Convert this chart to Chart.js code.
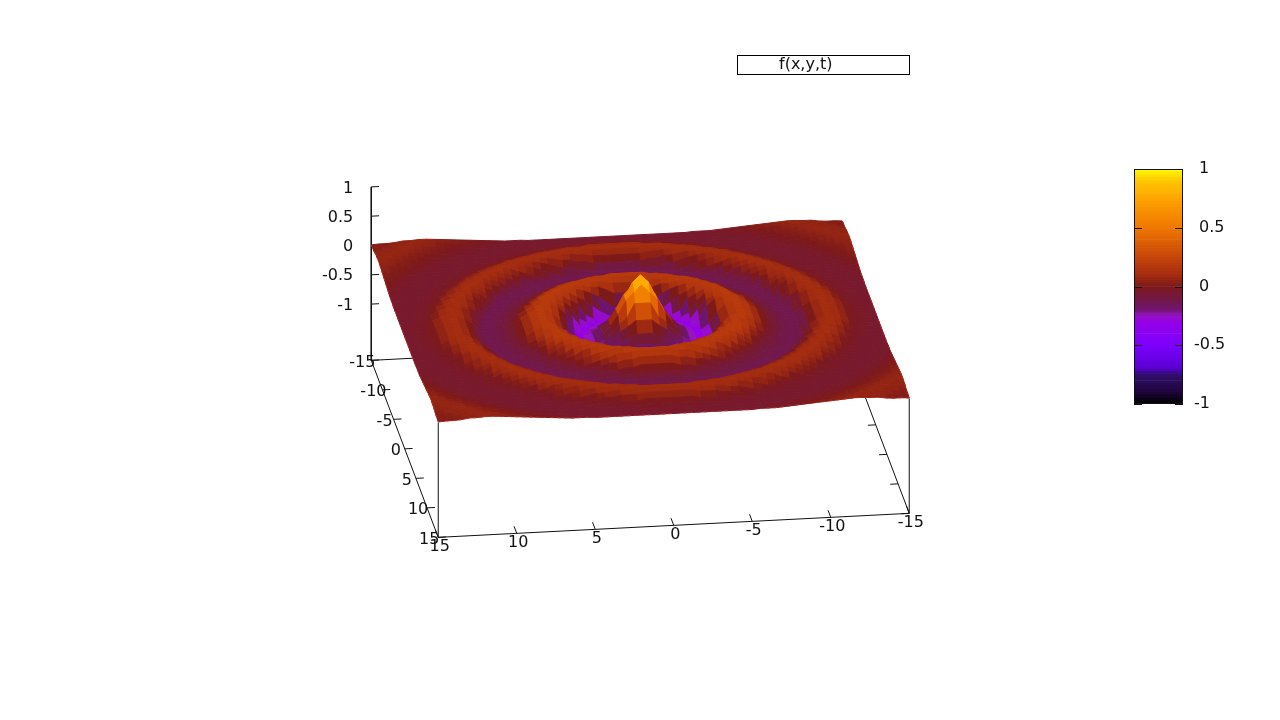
<!DOCTYPE html>
<html>
<head>
<meta charset="utf-8">
<title>f(x,y,t)</title>
<script src="https://cdn.jsdelivr.net/npm/chart.js@4/dist/chart.umd.min.js"></script>
<style>
  body { margin: 0; background: #fff; overflow: hidden; }
  #surface { position: absolute; left: 0; top: 0; }
  #colorbar { position: absolute; left: 1130px; top: 160px; }
  #key {
    position: absolute; left: 737px; top: 55px; width: 171px; height: 18px;
    border: 1px solid #000; font: 16px "DejaVu Sans"; line-height: 16px; color: #111;
  }
  #key span { position: absolute; left: 41px; top: 0; }
</style>
</head>
<body>
<canvas id="surface" width="1280" height="720"></canvas>
<canvas id="colorbar" width="150" height="256"></canvas>
<div id="key"><span>f(x,y,t)</span></div>
<script>
// height of the surface, one value per 0.25 of radius from the centre
const ringRadiusStep = 0.25;
const ringHeights = [
  0.8, 0.77, 0.68, 0.55, 0.42, 0.3, 0.18, 0.08,
  0, -0.07, -0.13, -0.18, -0.22, -0.25, -0.28, -0.3,
  -0.3, -0.27, -0.2, -0.1,
  0, 0.07, 0.12, 0.15, 0.17, 0.18, 0.18, 0.15, 0.12, 0.08, 0.04, 0,
  -0.03, -0.06, -0.08, -0.1, -0.11, -0.12, -0.13, -0.13, -0.12, -0.1, -0.04, 0,
  0.04, 0.07, 0.09, 0.1, 0.1, 0.09, 0.08, 0.05, 0.02, -0.01, -0.02, -0.03,
  -0.04, -0.04, -0.05, -0.05, -0.05, -0.05, -0.05, -0.05, -0.04, -0.04, -0.03, -0.02,
  -0.01, 0, 0.01, 0.02, 0.03, 0.04, 0.05, 0.06, 0.06, 0.06, 0.05, 0.05,
  0.04, 0.03, 0.02, 0.02, 0.01, 0.01
];

const gridX = [
  -15, -14.5, -14, -13.5, -13, -12.5, -12, -11.5, -11, -10.5, -10, -9.5, -9, -8.5, -8, -7.5,
  -7, -6.5, -6, -5.5, -5, -4.5, -4, -3.5, -3, -2.5, -2, -1.5, -1, -0.5, 0,
  0.5, 1, 1.5, 2, 2.5, 3, 3.5, 4, 4.5, 5, 5.5, 6, 6.5, 7, 7.5,
  8, 8.5, 9, 9.5, 10, 10.5, 11, 11.5, 12, 12.5, 13, 13.5, 14, 14.5, 15
];
const gridY = gridX;

const xTicks = [15, 10, 5, 0, -5, -10, -15];
const yTicks = [-15, -10, -5, 0, 5, 10, 15];
const zTicks = [1, 0.5, 0, -0.5, -1];
const zFloor = -1.96;

const colorbarLevels = [
  -1, -0.975, -0.95, -0.925, -0.9, -0.875, -0.85, -0.825, -0.8, -0.775,
  -0.75, -0.725, -0.7, -0.675, -0.65, -0.625, -0.6, -0.575, -0.55, -0.525,
  -0.5, -0.475, -0.45, -0.425, -0.4, -0.375, -0.35, -0.325, -0.3, -0.275,
  -0.25, -0.225, -0.2, -0.175, -0.15, -0.125, -0.1, -0.075, -0.05, -0.025,
  0, 0.025, 0.05, 0.075, 0.1, 0.125, 0.15, 0.175, 0.2, 0.225,
  0.25, 0.275, 0.3, 0.325, 0.35, 0.375, 0.4, 0.425, 0.45, 0.475,
  0.5, 0.525, 0.55, 0.575, 0.6, 0.625, 0.65, 0.675, 0.7, 0.725,
  0.75, 0.775, 0.8, 0.825, 0.85, 0.875, 0.9, 0.925, 0.95, 0.975
];
const colorbarTicks = [1, 0.5, 0, -0.5, -1];

// colours picked from the colour bar
const paletteLevels = [-1, -0.9, -0.75, -0.7, -0.5, -0.3, -0.25, -0.2, -0.1, 0, 0.1, 0.25, 0.5, 0.75, 0.9, 1];
const paletteColors = [
  [0, 0, 0], [30, 5, 60], [50, 15, 110], [90, 0, 210], [125, 0, 255], [150, 0, 230], [150, 20, 190],
  [110, 20, 110], [115, 25, 65], [125, 25, 25], [165, 45, 15], [200, 70, 10], [240, 120, 0],
  [255, 165, 0], [255, 200, 0], [255, 255, 0]
];

function colorFor(z) {
  let i = 0;
  while (i < paletteLevels.length - 2 && z > paletteLevels[i + 1]) {
    i++;
  }
  const t = Math.min(1, Math.max(0, (z - paletteLevels[i]) / (paletteLevels[i + 1] - paletteLevels[i])));
  const a = paletteColors[i];
  const b = paletteColors[i + 1];
  return `rgb(${Math.round(a[0] + (b[0] - a[0]) * t)},${Math.round(a[1] + (b[1] - a[1]) * t)},${Math.round(a[2] + (b[2] - a[2]) * t)})`;
}

function heightAt(x, y) {
  const index = Math.round(Math.sqrt(x * x + y * y) / ringRadiusStep);
  return ringHeights[Math.min(index, ringHeights.length - 1)];
}

// gnuplot's view, flat projection from data to page pixels
function project(x, y, z) {
  return {
    x: 640.25 - 15.7 * x + 2.233 * y,
    y: 322 + 0.8 * x + 5.9 * y - 58.6 * z
  };
}

function lineSet(points) {
  return {
    data: points.map(function (p) { return project(p[0], p[1], p[2]); }),
    showLine: true,
    fill: false,
    borderColor: '#111',
    borderWidth: 1,
    pointRadius: 0
  };
}

const datasets = [];

// box behind the surface
datasets.push(lineSet([[15, -15, 1], [15, -15, zFloor]]));
datasets.push(lineSet([[15, -15, zFloor], [-15, -15, zFloor]]));
datasets.push(lineSet([[15, -15, zFloor], [15, 15, zFloor]]));
datasets.push(lineSet([[-15, -15, zFloor], [-15, 15, zFloor]]));
datasets.push(lineSet([[15, 15, zFloor], [-15, 15, zFloor]]));
datasets.push(lineSet([[15, 15, zFloor], [15, 15, 0]]));
datasets.push(lineSet([[-15, 15, zFloor], [-15, 15, 0]]));

for (let i = 0; i < zTicks.length; i++) {
  datasets.push(lineSet([[15, -15, zTicks[i]], [14.5, -15, zTicks[i]]]));
}
for (let i = 0; i < yTicks.length; i++) {
  datasets.push(lineSet([[15, yTicks[i], zFloor], [14.5, yTicks[i], zFloor]]));
  datasets.push(lineSet([[-15, yTicks[i], zFloor], [-14.5, yTicks[i], zFloor]]));
}
for (let i = 0; i < xTicks.length; i++) {
  datasets.push(lineSet([[xTicks[i], 15, zFloor], [xTicks[i], 13.8, zFloor]]));
}

// surface cells, rear rows first so the front ones cover them
for (let j = 0; j < gridY.length - 1; j++) {
  for (let i = 0; i < gridX.length - 1; i++) {
    const corners = [
      [gridX[i], gridY[j]], [gridX[i + 1], gridY[j]],
      [gridX[i + 1], gridY[j + 1]], [gridX[i], gridY[j + 1]], [gridX[i], gridY[j]]
    ];
    const points = corners.map(function (c) {
      return project(c[0], c[1], heightAt(c[0], c[1]));
    });
    const color = colorFor(heightAt((gridX[i] + gridX[i + 1]) / 2, (gridY[j] + gridY[j + 1]) / 2));
    datasets.push({
      data: points,
      showLine: true,
      fill: 'shape',
      backgroundColor: color,
      borderColor: color,
      borderWidth: 1,
      pointRadius: 0
    });
  }
}

// the red specks along the left, right and front rims of the surface
function rimSet(points) {
  const set = lineSet(points.map(function (p) { return [p[0], p[1], heightAt(p[0], p[1])]; }));
  set.borderColor = 'rgb(195,40,30)';
  set.borderDash = [3, 4];
  return set;
}
datasets.push(rimSet(gridY.map(function (y) { return [15, y]; })));
datasets.push(rimSet(gridY.map(function (y) { return [-15, y]; })));
datasets.push(rimSet(gridX.map(function (x) { return [x, 15]; })));

// Chart.js paints the last dataset first
datasets.reverse();

const tickLabels = {
  id: 'tickLabels',
  afterDraw(chart) {
    const ctx = chart.ctx;
    const sx = chart.scales.x;
    const sy = chart.scales.y;
    ctx.save();
    ctx.font = '16px "DejaVu Sans"';
    ctx.fillStyle = '#111';
    ctx.textBaseline = 'middle';

    ctx.textAlign = 'right';
    zTicks.forEach(function (v) {
      const p = project(15, -15, v);
      ctx.fillText(String(v), sx.getPixelForValue(p.x) - 18, sy.getPixelForValue(p.y) + 1.5);
    });

    ctx.textAlign = 'center';
    yTicks.forEach(function (v) {
      const p = project(15, v, zFloor);
      ctx.fillText(String(v), sx.getPixelForValue(p.x) - 9, sy.getPixelForValue(p.y) + 2);
    });
    xTicks.forEach(function (v) {
      const p = project(v, 15, zFloor);
      ctx.fillText(String(v), sx.getPixelForValue(p.x) + 1.5, sy.getPixelForValue(p.y) + 9.5);
    });
    ctx.restore();
  }
};

new Chart(document.getElementById('surface').getContext('2d'), {
  type: 'scatter',
  data: { datasets: datasets },
  plugins: [tickLabels],
  options: {
    responsive: false,
    animation: false,
    events: [],
    layout: { padding: 0 },
    scales: {
      x: { type: 'linear', min: 0, max: 1280, display: false },
      y: { type: 'linear', min: 0, max: 720, reverse: true, display: false }
    },
    plugins: { legend: { display: false }, tooltip: { enabled: false } }
  }
});

const colorbarFrame = {
  id: 'colorbarFrame',
  afterDraw(chart) {
    const ctx = chart.ctx;
    const area = chart.chartArea;
    const sy = chart.scales.y;
    ctx.save();
    ctx.strokeStyle = '#111';
    ctx.lineWidth = 1;
    ctx.strokeRect(area.left + 0.5, area.top + 0.5, area.right - area.left - 1, area.bottom - area.top - 1);
    ctx.font = '16px "DejaVu Sans"';
    ctx.fillStyle = '#111';
    ctx.textBaseline = 'middle';
    ctx.textAlign = 'left';
    colorbarTicks.forEach(function (v) {
      const py = Math.round(sy.getPixelForValue(v)) + 0.5;
      ctx.beginPath();
      ctx.moveTo(area.left, py);
      ctx.lineTo(area.left + 8, py);
      ctx.moveTo(area.right - 8, py);
      ctx.lineTo(area.right, py);
      ctx.stroke();
      ctx.fillText(String(v), area.right + (v < 0 ? 11 : 16), sy.getPixelForValue(v));
    });
    ctx.restore();
  }
};

new Chart(document.getElementById('colorbar').getContext('2d'), {
  type: 'bar',
  data: {
    labels: ['f'],
    datasets: colorbarLevels.map(function (level) {
      return {
        data: [[level, level + 0.025]],
        backgroundColor: colorFor(level + 0.0125),
        borderWidth: 0,
        barPercentage: 1,
        categoryPercentage: 1,
        grouped: false
      };
    })
  },
  plugins: [colorbarFrame],
  options: {
    responsive: false,
    animation: false,
    events: [],
    layout: { padding: { left: 4, top: 9, right: 97, bottom: 12 } },
    scales: {
      x: { display: false },
      y: { min: -1, max: 1, display: false }
    },
    plugins: { legend: { display: false }, tooltip: { enabled: false } }
  }
});
</script>
</body>
</html>
